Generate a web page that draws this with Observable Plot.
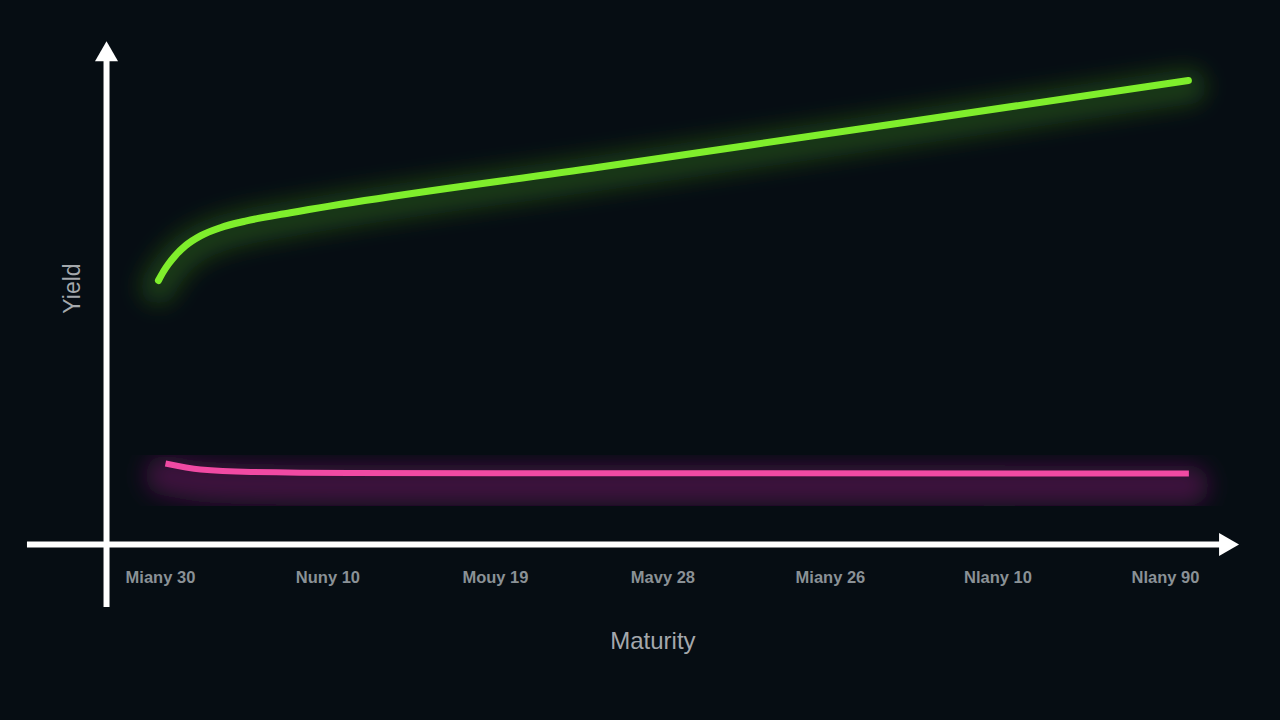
<!DOCTYPE html>
<html>
<head>
<meta charset="utf-8">
<script src="https://cdn.jsdelivr.net/npm/d3@7"></script>
<script src="https://cdn.jsdelivr.net/npm/@observablehq/plot@0.6"></script>
<style>
  html, body { margin: 0; padding: 0; background: #060d13; overflow: hidden; }
  #chart { width: 1280px; height: 720px; }
</style>
</head>
<body>
<div id="chart"></div>
<script>
// ---- data ----
const tickValues = [0, 1, 2, 3, 4, 5, 6];
const tickLabels = ["Miany 30", "Nuny 10", "Mouy 19", "Mavy 28", "Miany 26", "Nlany 10", "Nlany 90"];

const greenX = [-0.012, 0.018, 0.048, 0.090, 0.149, 0.239, 0.358, 0.507, 0.776, 2.627, 4.418, 6.137];
const greenY = [2.64, 2.73, 2.805, 2.892, 2.987, 3.086, 3.168, 3.234, 3.317, 3.775, 4.215, 4.64];

const pinkX = [0.03, 0.24, 0.54, 1.13, 3.0, 6.14];
const pinkY = [0.81, 0.75, 0.725, 0.715, 0.712, 0.71];

const xTitle = "Maturity";
const yTitle = "Yield";

// ---- layout constants ----
const xDomain = [-0.955, 6.687];
const yDomain = [-1.76, 5.44];
const yAxisAt = -0.322;
const xAxisFrom = -0.794, xAxisTo = 6.36, xArrowAt = 6.36;
const yAxisFrom = -0.63, yAxisTo = 4.86, yArrowAt = 4.9;

const green = greenX.map((x, i) => ({x, y: greenY[i]}));
const pink = pinkX.map((x, i) => ({x, y: pinkY[i]}));
const ticks = tickValues.map((v, i) => ({x: v, label: tickLabels[i]}));

const font = "Liberation Sans, Arial, sans-serif";

const chart = Plot.plot({
  width: 1280,
  height: 720,
  margin: 0,
  x: {domain: xDomain, axis: null},
  y: {domain: yDomain, axis: null},
  style: {background: "#060d13"},
  marks: [
    // glows
    Plot.line(pink, {x: "x", y: d => d.y - 0.12, stroke: "#8a1a78", strokeWidth: 40, strokeOpacity: 0.42, curve: "monotone-x", className: "glow"}),
    Plot.line(green, {x: "x", y: d => d.y - 0.06, stroke: "#4fb01a", strokeWidth: 36, strokeOpacity: 0.28, curve: "monotone-x", className: "glow"}),
    // main lines
    Plot.line(pink, {x: "x", y: "y", stroke: "#f04aa3", strokeWidth: 6, curve: "monotone-x", strokeLinecap: "butt"}),
    Plot.line(green, {x: "x", y: "y", stroke: "#7fee2c", strokeWidth: 7, curve: "monotone-x", strokeLinecap: "round"}),
    // axes
    Plot.ruleY([0], {x1: xAxisFrom, x2: xAxisTo, stroke: "#ffffff", strokeWidth: 6}),
    Plot.ruleX([yAxisAt], {y1: yAxisFrom, y2: yAxisTo, stroke: "#ffffff", strokeWidth: 6}),
    Plot.dot([{x: xArrowAt, y: 0}], {x: "x", y: "y", symbol: "triangle2", r: 11, fill: "#ffffff", stroke: null, rotate: 90}),
    Plot.dot([{x: yAxisAt, y: yArrowAt}], {x: "x", y: "y", symbol: "triangle2", r: 11, fill: "#ffffff", stroke: null}),
    // tick labels
    Plot.text(ticks, {x: "x", y: -0.33, text: "label", fill: "#8a9196", fontSize: 16.5, fontWeight: 600, fontFamily: font}),
    // titles
    Plot.text([xTitle], {x: 2.94, y: -0.97, text: d => d, fill: "#a4a8ac", fontSize: 24, fontFamily: font}),
    Plot.text([yTitle], {x: -0.525, y: 2.56, text: d => d, fill: "#a4a8ac", fontSize: 23, rotate: -90, fontFamily: font})
  ]
});

const svg = d3.select(chart);
const defs = svg.insert("defs", ":first-child");
defs.append("filter").attr("id", "blurGlow")
  .attr("x", "-20%").attr("y", "-200%").attr("width", "140%").attr("height", "500%")
  .append("feGaussianBlur").attr("stdDeviation", 11);
svg.selectAll(".glow").attr("filter", "url(#blurGlow)");

document.getElementById("chart").appendChild(chart);
</script>
</body>
</html>
